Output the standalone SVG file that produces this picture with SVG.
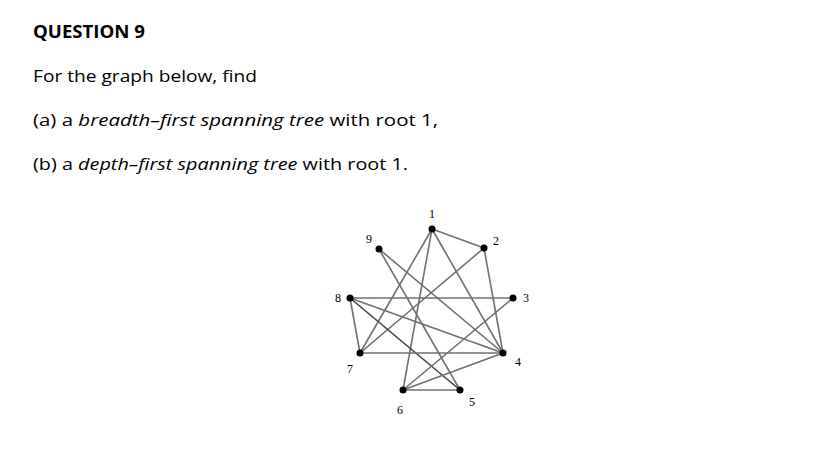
<svg xmlns="http://www.w3.org/2000/svg" width="821" height="460" viewBox="0 0 821 460">
<style>
.t{font-family:"Open Sans","Liberation Sans",sans-serif;font-size:17px;fill:#000}
.l{font-family:"Liberation Serif","Times New Roman",serif;font-size:12px;fill:#000;text-anchor:middle}
.e line{stroke:#707070;stroke-width:1.6}
.n circle{fill:#000}
</style>
<rect width="821" height="460" fill="#fff"/>
<text class="t" x="33" y="38" font-weight="bold" textLength="112" lengthAdjust="spacingAndGlyphs">QUESTION 9</text>
<text class="t" x="33" y="82" textLength="224" lengthAdjust="spacingAndGlyphs">For the graph below, find</text>
<text class="t" x="33" y="126" textLength="405" lengthAdjust="spacingAndGlyphs">(a) a <tspan font-style="italic">breadth–first spanning tree</tspan> with root 1,</text>
<text class="t" x="33" y="170" textLength="375" lengthAdjust="spacingAndGlyphs">(b) a <tspan font-style="italic">depth–first spanning tree</tspan> with root 1.</text>
<g class="e" id="connectors">
<line x1="432" y1="229" x2="484" y2="248"/>
<line x1="432" y1="229" x2="360" y2="353"/>
<line x1="432" y1="229" x2="403" y2="390"/>
<line x1="432" y1="229" x2="503" y2="353"/>
<line x1="484" y1="248" x2="360" y2="353"/>
<line x1="484" y1="248" x2="503" y2="353"/>
<line x1="379" y1="249" x2="503" y2="353"/>
<line x1="379" y1="249" x2="460" y2="390"/>
<line x1="350" y1="298" x2="513" y2="298"/>
<line x1="350" y1="298" x2="360" y2="353"/>
<line x1="350" y1="298" x2="503" y2="353"/>
<line x1="350" y1="298" x2="460" y2="390" style="stroke:#444"/>
<line x1="360" y1="353" x2="503" y2="353"/>
<line x1="513" y1="298" x2="403" y2="390"/>
<line x1="503" y1="353" x2="403" y2="390"/>
<line x1="403" y1="390" x2="460" y2="390"/>
</g>
<g class="n" id="n1"><circle cx="432" cy="229" r="3.5"/><text class="l" x="432" y="218">1</text></g>
<g class="n" id="n2"><circle cx="484" cy="248" r="3.5"/><text class="l" x="496" y="245">2</text></g>
<g class="n" id="n3"><circle cx="513" cy="298" r="3.5"/><text class="l" x="526" y="302">3</text></g>
<g class="n" id="n4"><circle cx="503" cy="353" r="3.5"/><text class="l" x="518" y="366">4</text></g>
<g class="n" id="n5"><circle cx="460" cy="390" r="3.5"/><text class="l" x="472" y="406">5</text></g>
<g class="n" id="n6"><circle cx="403" cy="390" r="3.5"/><text class="l" x="400" y="414">6</text></g>
<g class="n" id="n7"><circle cx="360" cy="353" r="3.5"/><text class="l" x="350" y="373">7</text></g>
<g class="n" id="n8"><circle cx="350" cy="298" r="3.5"/><text class="l" x="338" y="302">8</text></g>
<g class="n" id="n9"><circle cx="379" cy="249" r="3.5"/><text class="l" x="369" y="243">9</text></g>
</svg>
